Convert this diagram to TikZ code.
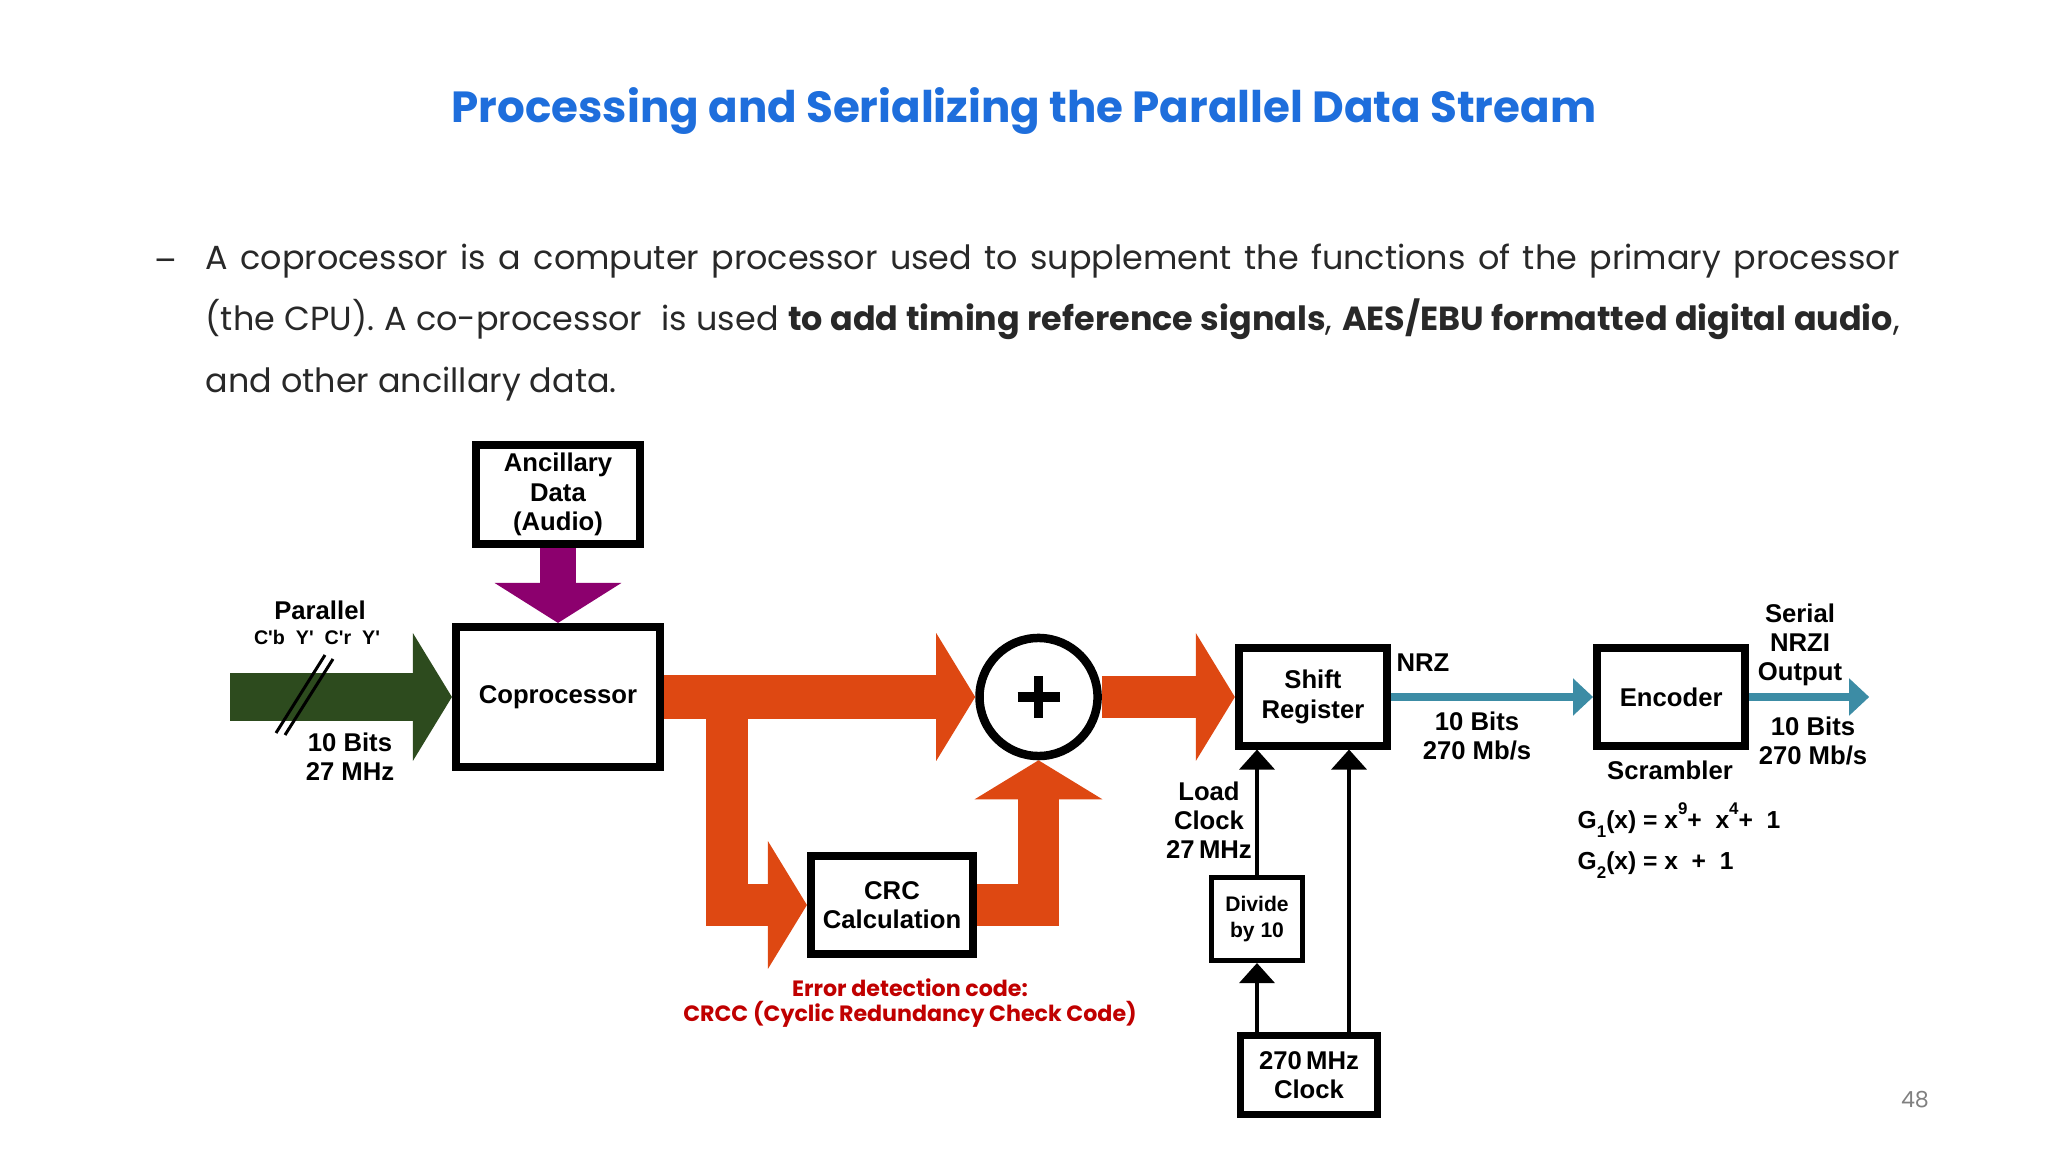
\documentclass[tikz,border=0pt]{standalone}
\usepackage{fontspec}
\setmainfont{Poppins}
\newfontfamily\diafont{Liberation Sans}
\usetikzlibrary{arrows.meta, positioning, calc}
\definecolor{TitleBlue}{RGB}{30, 110, 220}
\definecolor{FlowOrange}{RGB}{222, 72, 18}
\definecolor{AncPurple}{RGB}{140, 0, 110}
\definecolor{InGreen}{RGB}{45, 75, 30}
\definecolor{SerTeal}{RGB}{60, 140, 165}
\definecolor{NoteRed}{RGB}{192, 0, 0}
\definecolor{BodyGray}{RGB}{40, 40, 40}

\begin{document}
\begin{tikzpicture}[
            x=0.01cm, y=-0.01cm,
            block/.style={draw=black, line width=0.8mm, fill=white, align=center, inner sep=0pt, font=\diafont\bfseries\fontsize{7.3}{8.3}\selectfont},
            lbl/.style={align=center, inner sep=0pt, font=\diafont\bfseries\fontsize{7.3}{8.3}\selectfont},
            fat/.style={line width=#1, -{Triangle[length=3.9mm, width=12.6mm]}},
            clkarrow/.style={line width=0.35mm, -{Triangle[length=2mm, width=3.5mm]}},
            serial/.style={SerTeal, line width=0.8mm, -{Triangle[length=2mm, width=3.6mm]}}
        ]
            \useasboundingbox (0,0) rectangle (2048,1152);

            % slide text
            \node[font=\bfseries\fontsize{12.4}{15}\selectfont, text=TitleBlue] (title) at (1024,111) {Processing and Serializing the Parallel Data Stream};
            \node[text=BodyGray, font=\fontsize{9.5}{17.5}\selectfont] (dash) at (166,266) {--};
            \node[anchor=north west, inner sep=0pt, text width=16.93cm, align=justify, text=BodyGray, font=\fontsize{9.5}{17.5}\selectfont] (body) at (205,243)
                {A coprocessor is a computer processor used to supplement the functions of the primary processor\linebreak (the CPU). A co-processor\ \ is used \textbf{to add timing reference signals}, \textbf{AES/EBU formatted digital audio},\linebreak and other ancillary data.};

            % blocks
            \node[block, minimum width=2.04cm, minimum height=1.40cm] (copro) at (558,697) {Coprocessor};
            \node[block, minimum width=1.63cm, minimum height=0.99cm, above=0.75cm of copro] (anc) {Ancillary\\Data\\(Audio)};
            \node[draw=black, line width=0.85mm, circle, minimum size=1.18cm, inner sep=0pt, right=3.11cm of copro] (adder) {};
            \node[block, minimum width=1.48cm, minimum height=0.97cm, right=1.33cm of adder] (shift) {Shift\\Register};
            \node[block, minimum width=1.48cm, minimum height=0.97cm, right=2.02cm of shift] (enc) {Encoder};
            \node[block, minimum width=1.62cm, minimum height=0.98cm] (crc) at (892,905) {CRC\\Calculation};
            \node[block, line width=0.5mm, minimum width=0.90cm, minimum height=0.83cm, font=\diafont\bfseries\fontsize{6}{7.2}\selectfont] (div) at (1257,919) {Divide\\by 10};
            \node[block, line width=0.7mm, minimum width=1.37cm, minimum height=0.78cm] (clk) at (1309,1075) {270\,MHz\\Clock};

            % plus sign
            \draw[line width=0.9mm] ($(adder.center)+(-21,0)$) -- ($(adder.center)+(21,0)$);
            \draw[line width=0.9mm] ($(adder.center)+(0,-21)$) -- ($(adder.center)+(0,21)$);

            % wide arrows
            \coordinate (parin) at (230,697);
            \coordinate (split) at (727,697);
            \draw[InGreen, fat=4.7mm] (parin) -- (copro.west);
            \draw[AncPurple, line width=3.5mm, -{Triangle[length=4mm, width=12.5mm]}] (anc.south) -- (copro.north);
            \draw[FlowOrange, fat=4.3mm] (copro.east) -- (adder.west);
            \draw[FlowOrange, fat=4.1mm] (split) |- (crc.west);
            \draw[FlowOrange, fat=4.1mm] (crc.east) -| (adder.south);
            \draw[FlowOrange, fat=4.2mm] (adder.east) -- (shift.west);

            % bus slashes
            \draw[line width=0.3mm] (276,733) -- (325,655);
            \draw[line width=0.3mm] (285,735) -- (333,659);

            % clocks
            \coordinate (clkout) at ($(clk.north east)+(-32,0)$);
            \draw[clkarrow] (div.south |- clk.north) -- (div.south);
            \draw[clkarrow] (div.north) -- (div.north |- shift.south);
            \draw[clkarrow] (clkout) -- (clkout |- shift.south);

            % serial side
            \coordinate (serout) at ($(enc.east)+(120,0)$);
            \draw[serial] (shift.east) -- (enc.west);
            \draw[serial] (enc.east) -- (serout);

            % labels
            \node[lbl] (parlbl) at (320,610) {Parallel};
            \node[lbl, font=\diafont\bfseries\fontsize{5.6}{6.5}\selectfont] (chlbl) at (317,637) {C'b\ \ Y'\ \ C'r\ \ Y'};
            \node[lbl] (inrate) at (350,757) {10 Bits\\27 MHz};
            \node[lbl] (loadlbl) at (1209,820) {Load\\Clock\\27\,MHz};
            \node[lbl] (nrzlbl) at (1423,663) {NRZ};
            \node[lbl] (nrzrate) at (1477,736) {10 Bits\\270 Mb/s};
            \node[lbl] (outlbl) at (1800,645) {Serial\\NRZI\\Output};
            \node[lbl] (outrate) at (1813,741) {10 Bits\\270 Mb/s};
            \node[lbl] (scrlbl) at (1670,770) {Scrambler};
            \node[lbl, anchor=west, font=\diafont\bfseries\fontsize{7}{8}\selectfont] (gone) at (1577,820)
                {G\raisebox{-0.7ex}{\fontsize{4.8}{5}\selectfont 1}(x) = x\raisebox{1.1ex}{\fontsize{4.8}{5}\selectfont 9}+\ \ x\raisebox{1.1ex}{\fontsize{4.8}{5}\selectfont 4}+\ \ 1};
            \node[lbl, anchor=west, font=\diafont\bfseries\fontsize{7}{8}\selectfont] (gtwo) at (1577,865)
                {G\raisebox{-0.7ex}{\fontsize{4.8}{5}\selectfont 2}(x) = x\ \ +\ \ 1};
            \node[align=center, text=NoteRed, font=\bfseries\fontsize{6.3}{7.1}\selectfont] (crcnote) at (910,1003)
                {Error detection code:\\CRCC (Cyclic Redundancy Check Code)};
            \node[text=gray, font=\fontsize{6.3}{7.5}\selectfont] (pagenum) at (1915,1100) {48};
        \end{tikzpicture}
\end{document}
